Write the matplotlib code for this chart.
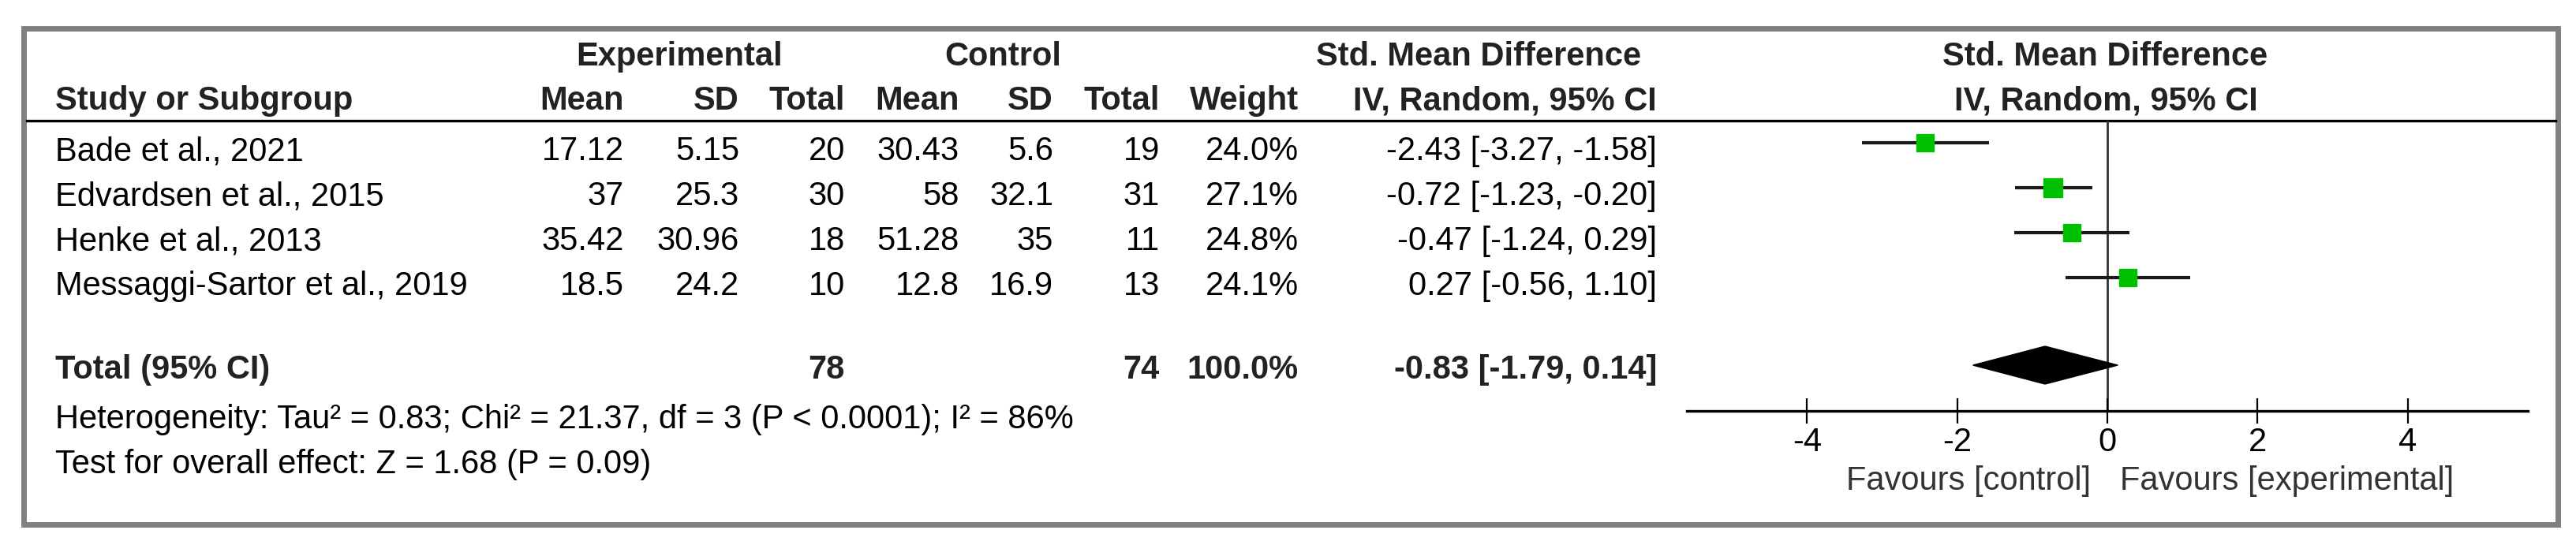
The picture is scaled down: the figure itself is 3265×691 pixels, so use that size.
import matplotlib
matplotlib.use("Agg")
import matplotlib.pyplot as plt
from matplotlib.patches import Rectangle, Polygon

plt.rcParams['font.family'] = ['Liberation Sans', 'DejaVu Sans']

# data
studies = ["Bade et al., 2021", "Edvardsen et al., 2015", "Henke et al., 2013",
           "Messaggi-Sartor et al., 2019"]
exp_mean = [17.12, 37, 35.42, 18.5]
exp_sd = [5.15, 25.3, 30.96, 24.2]
exp_n = [20, 30, 18, 10]
ctl_mean = [30.43, 58, 51.28, 12.8]
ctl_sd = [5.6, 32.1, 35, 16.9]
ctl_n = [19, 31, 11, 13]
weights = [24.0, 27.1, 24.8, 24.1]
smd = [-2.43, -0.72, -0.47, 0.27]
ci_lo = [-3.27, -1.23, -1.24, -0.56]
ci_hi = [-1.58, -0.20, 0.29, 1.10]

total_exp_n = 78
total_ctl_n = 74
total_weight = 100.0
total_smd = -0.83
total_lo = -1.79
total_hi = 0.14

heterogeneity = "Heterogeneity: Tau\u00b2 = 0.83; Chi\u00b2 = 21.37, df = 3 (P < 0.0001); I\u00b2 = 86%"
overall = "Test for overall effect: Z = 1.68 (P = 0.09)"
xticks = [-4, -2, 0, 2, 4]
fav_left = "Favours [control]"
fav_right = "Favours [experimental]"

W, H = 3266, 691
fig = plt.figure(figsize=(W / 100, H / 100), dpi=100)

# page-level axes in pixel coordinates for the table
ax = fig.add_axes([0, 0, 1, 1])
ax.set_xlim(0, W)
ax.set_ylim(H, 0)
ax.axis("off")

ax.add_patch(Rectangle((30, 35.5), 3212.5, 629, fill=False, ec="#808080", lw=5))
ax.plot([34, 3239], [152.5, 152.5], color="black", lw=2.4)

fs = 30
hc = "#222222"
# headers
ax.text(861, 83, "Experimental", ha="center", fontsize=fs, weight="bold", color=hc)
ax.text(1271, 83, "Control", ha="center", fontsize=fs, weight="bold", color=hc)
ax.text(1874, 83, "Std. Mean Difference", ha="center", fontsize=fs, weight="bold", color=hc)
ax.text(2668, 83, "Std. Mean Difference", ha="center", fontsize=fs, weight="bold", color=hc)
ax.text(2669, 139, "IV, Random, 95% CI", ha="center", fontsize=fs, weight="bold", color=hc)

col_x = [791, 937, 1071, 1216, 1335, 1470, 1646, 2100]
head = ["Mean", "SD", "Total", "Mean", "SD", "Total", "Weight", "IV, Random, 95% CI"]
ax.text(70, 139, "Study or Subgroup", ha="left", fontsize=fs, weight="bold", color=hc)
for x, h in zip(col_x, head):
    ax.text(x, 139, h, ha="right", fontsize=fs, weight="bold", color=hc)

# study rows
row0, step = 203, 57
for i, name in enumerate(studies):
    y = row0 + step * i
    cells = [f"{exp_mean[i]:g}", f"{exp_sd[i]:g}", f"{exp_n[i]}",
             f"{ctl_mean[i]:g}", f"{ctl_sd[i]:g}", f"{ctl_n[i]}",
             f"{weights[i]:.1f}%",
             f"{smd[i]:.2f} [{ci_lo[i]:.2f}, {ci_hi[i]:.2f}]"]
    ax.text(70, y, name, ha="left", fontsize=fs, color="black")
    for x, c in zip(col_x, cells):
        ax.text(x, y, c, ha="right", fontsize=fs, color="black")

# total row
yt = 480
ax.text(70, yt, "Total (95% CI)", ha="left", fontsize=fs, weight="bold", color=hc)
ax.text(col_x[2], yt, f"{total_exp_n}", ha="right", fontsize=fs, weight="bold", color=hc)
ax.text(col_x[5], yt, f"{total_ctl_n}", ha="right", fontsize=fs, weight="bold", color=hc)
ax.text(col_x[6], yt, f"{total_weight:.1f}%", ha="right", fontsize=fs, weight="bold", color=hc)
ax.text(col_x[7], yt, f"{total_smd:.2f} [{total_lo:.2f}, {total_hi:.2f}]",
        ha="right", fontsize=fs, weight="bold", color=hc)

ax.text(70, 543, heterogeneity, ha="left", fontsize=fs, color="black")
ax.text(70, 600, overall, ha="left", fontsize=fs, color="black")

ax.text(2650, 621, fav_left, ha="right", fontsize=fs, color="#333333")
ax.text(2687, 621, fav_right, ha="left", fontsize=fs, color="#333333")

# forest panel
x0, x1 = 2138, 3204
ytop, ybot = 153, 521
fx = fig.add_axes([x0 / W, (H - ybot) / H, (x1 - x0) / W, (ybot - ytop) / H])
fx.patch.set_alpha(0)
fx.set_xlim(-5.6, 5.6)
# rows: centre of row i at pixel 181 + 57*i
fx.set_ylim((ybot - 181) / 57, (ytop - 181) / 57)
for s in ["top", "left", "right"]:
    fx.spines[s].set_visible(False)
fx.spines["bottom"].set_linewidth(2.4)
fx.set_yticks([])
fx.set_xticks(xticks)
fx.set_xticklabels([str(t) for t in xticks])
fx.tick_params(axis="x", direction="inout", length=23, width=1.6, pad=3,
               labelsize=fs, labelcolor="black")

fx.axvline(0, color="#333333", lw=2, zorder=1)

for i in range(len(studies)):
    fx.plot([ci_lo[i], ci_hi[i]], [i, i], color="#1a1a1a", lw=3, zorder=2,
            solid_capstyle="butt")
    fx.plot(smd[i], i, marker="s", color="#00C000", mec="#00C000",
            markersize=15.2 * weights[i] / 24, zorder=3)

yd = (463 - 181) / 57
hd = 24 / 57
fx.add_patch(Polygon([(total_lo, yd), (total_smd, yd - hd), (total_hi, yd),
                      (total_smd, yd + hd)], closed=True, color="black", zorder=3))

fig.savefig("out.png", dpi=100)
